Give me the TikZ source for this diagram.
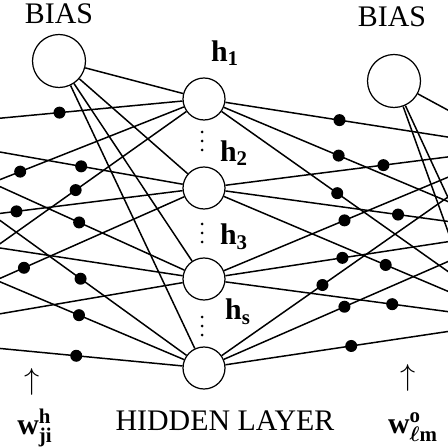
\documentclass[tikz,border=0pt]{standalone}
\usepackage{amsmath,amssymb,bm}
\usepackage{fontspec}
\setmainfont{Liberation Serif}
\usepackage{tikz}
\usetikzlibrary{positioning}

\begin{document}
\begin{tikzpicture}[
  x=0.02cm, y=-0.02cm,
  neuron/.style={
    circle, draw, line width=0.7pt, fill=white,
    minimum size=0.84cm, inner sep=0pt
  },
  biasnode/.style={
    circle, draw, line width=0.7pt, fill=white,
    minimum size=1.06cm, inner sep=0pt
  },
  weight/.style={circle, fill=black, inner sep=0pt, minimum size=0.24cm},
  link/.style={line width=0.85pt},
  lbl/.style={font=\fontsize{17}{19}\selectfont, inner sep=0pt}
]
\useasboundingbox (0,0) rectangle (448,448);
\clip (0,0) rectangle (448,448);

% Neurônios
\node[biasnode] (bin)  at (59,61)  {};
\node[biasnode] (bout) at (394,81) {};
\node[neuron] (h1) at (204,99)  {};
\node[neuron] (h2) at (204,188) {};
\node[neuron] (h3) at (204,279) {};
\node[neuron] (hs) at (204,368) {};

% Camadas fora do quadro
\coordinate (in1) at (-125,130);
\coordinate (in2) at (-125,229);
\coordinate (in3) at (-130,336);
\coordinate (out1) at (518,148);
\coordinate (out2) at (518,231);
\coordinate (out3) at (518,321);
\coordinate (ob2) at (470,245);
\coordinate (ob3) at (460,265);

% Rótulos
\node[lbl] (tbin)  at (59,14)  {BIAS};
\node[lbl] (tbout) at (392,17) {BIAS};
\node[lbl] (lh1) at (225,53)  {$\mathbf{h_1}$};
\node[lbl] (lh2) at (234,153) {$\mathbf{h_2}$};
\node[lbl] (lh3) at (234,237) {$\mathbf{h_3}$};
\node[lbl] (lhs) at (238,312) {$\mathbf{h_s}$};
\foreach \y in {141,233,326}
  \foreach \k in {-1,0,1}
    \fill (202,\y+\k*9) circle[radius=1.5];

\node[lbl] (upl) at (32,382)  {$\uparrow$};
\node[lbl] (upr) at (408,378) {$\uparrow$};
\node[lbl] (whji) at (35,428)  {$\mathbf{w}^{\mathbf{h}}_{\mathbf{ji}}$};
\node[lbl] (hidden) at (225,421) {HIDDEN LAYER};
\node[lbl] (wolm) at (413,427) {$\mathbf{w}^{\mathbf{o}}_{\bm{\ell}\mathbf{m}}$};

% Ligações com pesos
\foreach \a/\b/\p in {in1/h1/0.60, in1/h2/0.67, in1/h3/0.66, in1/hs/0.66,
                      in2/h1/0.47, in2/h2/0.46, in2/hs/0.66,
                      in3/h1/0.65, in3/h2/0.49, in3/hs/0.66,
                      h1/out1/0.39, h1/out2/0.39, h1/out3/0.39,
                      h2/out1/0.54, h2/out2/0.59, h2/out3/0.55,
                      h3/out1/0.41, h3/out2/0.40, h3/out3/0.57,
                      hs/out1/0.34, hs/out2/0.41, hs/out3/0.43}
  \draw[link] (\a) -- node[weight, pos=\p]{} (\b);
\draw[link] (in2) -- (h3);
\draw[link] (in3) -- (h3);

% Ligações do bias
\foreach \b in {h1,h2,h3,hs}
  \draw[link] (bin) -- (\b);
\foreach \b in {out1,ob2,ob3}
  \draw[link] (bout) -- (\b);

\end{tikzpicture}
\end{document}
